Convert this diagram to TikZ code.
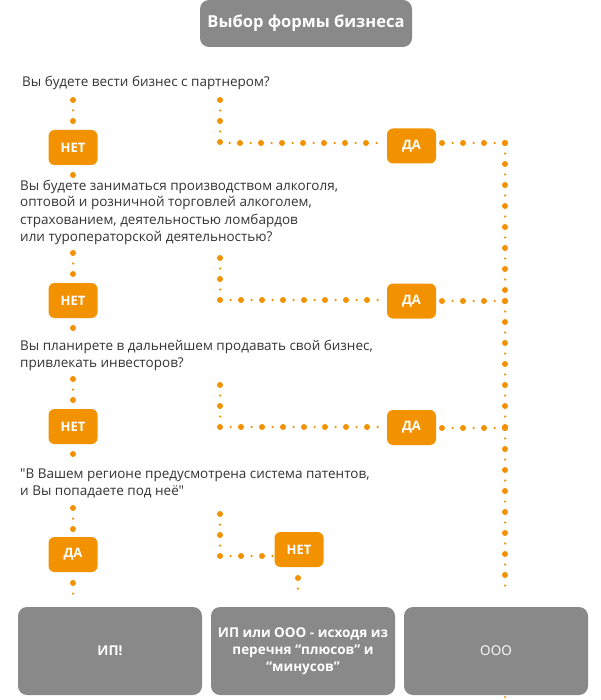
\documentclass[tikz,border=0pt]{standalone}
\usepackage{fontspec}
\setmainfont{Open Sans}
\newfontfamily\plainqfont{Open Sans}
\usetikzlibrary{backgrounds}
\definecolor{org}{HTML}{F39200}
\definecolor{gboxc}{HTML}{898989}
\definecolor{qtxt}{HTML}{333333}
\tikzset{
 obox/.style={fill=org, rounded corners=6pt, minimum width=49pt, minimum height=35pt, inner sep=0pt, text=white, font=\bfseries\fontsize{13}{15}\selectfont},
 gbx/.style={fill=gboxc, rounded corners=9pt, minimum width=184pt, minimum height=88pt, inner sep=2pt, text=white, align=center, font=\bfseries\fontsize{13.5}{17}\selectfont},
 qtext/.style={anchor=base west, align=left, inner sep=0pt, text=qtxt, font=\plainqfont\fontsize{13.5}{17}\selectfont},
 dotlink/.style={draw=org, line width=6pt, line cap=round, dash pattern=on 0pt off 21pt,
   postaction={draw=org, line width=2.5pt, line cap=round, dash pattern=on 0pt off 21pt, dash phase=10.5pt}},
}
\begin{document}
\begin{tikzpicture}[x=1pt,y=-1pt]
\useasboundingbox (0,0) rectangle (600,700);
% title
\node[gbx, minimum width=212pt, minimum height=47pt, font=\bfseries\fontsize{16.5}{19}\selectfont] (title) at (306,23.5) {Выбор формы бизнеса};
% questions (anchored at the baseline of their last line)
\node[qtext] (q1) at (22,87) {Вы будете вести бизнес с партнером?};
\node[qtext] (q2) at (20,241) {Вы будете заниматься производством алкоголя,\\оптовой и розничной торговлей алкоголем,\\страхованием, деятельностью ломбардов\\или туроператорской деятельностью?};
\node[qtext] (q3) at (20,367) {Вы планирете в дальнейшем продавать свой бизнес,\\привлекать инвесторов?};
\node[qtext] (q4) at (20,495) {"В Вашем регионе предусмотрена система патентов,\\и Вы попадаете под неё"};
% orange boxes
\node[obox] (n1) at (73,147.5) {НЕТ};
\node[obox] (n2) at (73,300.5) {НЕТ};
\node[obox] (n3) at (73,426.5) {НЕТ};
\node[obox] (d4) at (73,554.5) {ДА};
\node[obox] (da1) at (411.5,146) {ДА};
\node[obox] (da2) at (411.5,301) {ДА};
\node[obox] (da3) at (411.5,427.5) {ДА};
\node[obox] (n4) at (299,549.5) {НЕТ};
% result boxes
\node[gbx] (b1) at (110,651) {ИП!};
\node[gbx] (b2) at (303,651) {ИП или ООО - исходя из\\перечня “плюсов” и\\“минусов”};
\node[gbx, font=\fontsize{13.5}{17}\selectfont] (b3) at (496,651) {ООО};
% coordinates
\coordinate (l1a) at (73,100); \coordinate (l1b) at (73,175);
\coordinate (l2a) at (73,253); \coordinate (l2b) at (73,328);
\coordinate (l3a) at (73,379); \coordinate (l3b) at (73,454);
\coordinate (l4a) at (73,508); \coordinate (l4b) at (73,583); \coordinate (l4c) at (73,594);
\coordinate (m1a) at (220,100); \coordinate (m1c) at (220,143);
\coordinate (m2a) at (220,258); \coordinate (m2c) at (220,300);
\coordinate (m3a) at (220,385); \coordinate (m3c) at (220,427);
\coordinate (m4a) at (220,514); \coordinate (m4c) at (220,556);
\coordinate (n4a) at (298,578); \coordinate (n4b) at (298,589);
\coordinate (r1) at (505,143); \coordinate (r2) at (505,301); \coordinate (r3) at (505,428); \coordinate (r4) at (505,589);
\coordinate (rend) at (505,697);
\begin{pgfonlayer}{background}
\draw[dotlink] (l1a) -- (n1.north);
\draw[dotlink] (l1b) -- (n1.south);
\draw[dotlink] (l2a) -- (n2.north);
\draw[dotlink] (l2b) -- (n2.south);
\draw[dotlink] (l3a) -- (n3.north);
\draw[dotlink] (l3b) -- (n3.south);
\draw[dotlink] (l4a) -- (d4.north);
\draw[dotlink] (l4b) -- (l4c);
\draw[dotlink] (m1a) -- (m1c) -- (m1c -| da1.west);
\draw[dotlink] (m2a) -- (m2c) -- (m2c -| da2.west);
\draw[dotlink] (m3a) -- (m3c) -- (m3c -| da3.west);
\draw[dotlink] (m4a) -- (m4c) -- (m4c -| n4.west);
\draw[dotlink] (n4a) -- (n4b);
\draw[dotlink] (r1) -- (r1 -| da1.east);
\draw[dotlink] (r2) -- (r2 -| da2.east);
\draw[dotlink] (r3) -- (r3 -| da3.east);
\draw[dotlink] (r1) -- (r2);
\draw[dotlink] (r2) -- (r3);
\draw[dotlink] (r3) -- (r4);
\fill[org] (rend) circle (1.2pt);
\end{pgfonlayer}
\end{tikzpicture}
\end{document}
